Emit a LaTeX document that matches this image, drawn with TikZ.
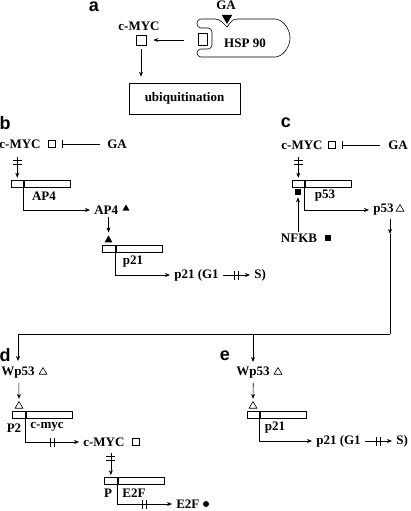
\documentclass[tikz,border=0pt]{standalone}
\usepackage{fontspec}
\setmainfont{Liberation Serif}
\newfontfamily\panelfont{Liberation Sans}
\usetikzlibrary{positioning}
\usetikzlibrary{arrows.meta}
\usetikzlibrary{shapes.geometric}
\usetikzlibrary{decorations.markings}

\tikzset{
  lbl/.style={font=\bfseries\fontsize{13}{15}\selectfont, inner sep=1pt},
  tag/.style={font=\panelfont\bfseries\fontsize{18}{20}\selectfont, inner sep=0pt},
  opensq/.style={draw, minimum size=7pt, inner sep=0pt},
  fillsq/.style={fill, minimum size=6pt, inner sep=0pt},
  opentri/.style={draw, regular polygon, regular polygon sides=3, minimum size=9pt, inner sep=0pt},
  filltri/.style={fill, regular polygon, regular polygon sides=3, minimum size=9pt, inner sep=0pt},
  prom/.style={draw, minimum width=12pt, minimum height=7pt, inner sep=0pt, anchor=west},
  gene/.style={draw, minimum width=46pt, minimum height=7pt, inner sep=0pt},
  twobar/.style={postaction={decorate}, decoration={markings, mark=at position #1 with {\draw (-2pt,-4.5pt) -- (-2pt,4.5pt) (2pt,-4.5pt) -- (2pt,4.5pt);}}}
}

\begin{document}
\begin{tikzpicture}[x=1pt, y=-1pt, line width=0.6pt, >={Stealth[length=5pt,width=4pt]}]
\useasboundingbox (0,0) rectangle (410,511);

% a: HSP 90 releases c-MYC
\node[tag] (taga) at (94,7) {a};
\node[lbl] (gaa) at (226,5) {GA};
\node[filltri, shape border rotate=180, minimum size=12pt] (gatri) at (227,18) {};
\draw[rounded corners=4pt] (227,27) -- (233,19) -- (271,19) arc[start angle=-90, end angle=90, radius=19] -- (197,57) -- (197,49) -- (212,49) -- (212,28) -- (197,28) -- (197,19) -- (219,19) -- (227,27);
\node[draw, minimum width=9pt, minimum height=12pt, inner sep=0pt] (hspsq) at (202.5,39) {};
\node[lbl] (hsp) at (245,43) {HSP 90};
\node[lbl] (myca) at (139,26) {c-MYC};
\node[draw, minimum size=10pt, inner sep=0pt] (mycasq) at (141,40) {};
\coordinate (hspout) at (184,40);
\draw[->, shorten >=7pt] (hspout) -- (mycasq.east);
\node[lbl, draw, minimum width=111pt, minimum height=31pt] (ubq) at (184.5,98.5) {ubiquitination};
\draw[->, shorten <=4pt, shorten >=6pt] (mycasq.south) -- (ubq.north -| mycasq.south);

% b
\node[tag] (tagb) at (5,123) {b};
\node[lbl] (mycb) at (20,144) {c-MYC};
\node[opensq] (mycbsq) at (52,144) {};
\node[lbl] (gab) at (117,144) {GA};
\draw[-{Bar[width=8pt]}, shorten >=6pt, shorten <=6pt] (gab.west) -- (mycbsq.east);
\node[prom] (pb1) at (11,183.5) {};
\node[gene, right=0pt of pb1] (gb1) {};
\draw[->, shorten <=7pt, shorten >=2pt] (pb1.north |- mycb.south) -- (pb1.north);
\path[twobar=0.41] (pb1.north |- mycb.south) -- (pb1.north);
\node[lbl] (ap4g) at (44,196) {AP4};
\node[lbl, anchor=west] (ap4b) at (93,210) {AP4};
\node[filltri, minimum size=8pt] (ap4tri) at (126,208.5) {};
\draw[->, shorten >=3pt] (pb1.south east) |- (ap4b.west);
\node[filltri] (ap4tri2) at (108.5,240) {};
\node[prom, minimum width=13pt] (pb2) at (102,248.5) {};
\node[gene, right=0pt of pb2] (gb2) {};
\draw[->, shorten <=1pt, shorten >=2.5pt] (ap4b.south -| ap4tri2) -- (ap4tri2.north);
\node[lbl] (p21g) at (133,262) {p21};
\node[lbl, anchor=west] (p21b) at (173,275) {p21 (G1};
\node[lbl, anchor=west] (sb) at (253,275) {S)};
\draw[->, shorten >=3pt] (pb2.south east) |- (p21b.west);
\draw[->, shorten <=3pt, shorten >=3pt] (p21b.east) -- (sb.west);
\path[twobar=0.5] (p21b.east) -- (sb.west);

% c
\node[tag] (tagc) at (286,123) {c};
\node[lbl] (mycc) at (302,145) {c-MYC};
\node[opensq] (myccsq) at (332,145) {};
\node[lbl] (gac) at (398,145) {GA};
\draw[-{Bar[width=8pt]}, shorten >=6pt, shorten <=7pt] (gac.west) -- (myccsq.east);
\node[prom] (pc) at (292,183.5) {};
\node[gene, right=0pt of pc] (gc) {};
\draw[->, shorten <=6pt, shorten >=2pt] (pc.north |- mycc.south) -- (pc.north);
\path[twobar=0.39] (pc.north |- mycc.south) -- (pc.north);
\node[fillsq] (nfsq) at (298,192) {};
\node[lbl] (p53g) at (325,196) {p53};
\node[lbl] (nfkb) at (299,238) {NFKB};
\node[fillsq] (nfkbsq) at (328,238) {};
\draw[->, shorten >=2pt] (nfkb.north -| nfsq) -- (nfsq.south);
\node[lbl, anchor=west] (p53c) at (372,210) {p53};
\node[opentri] (p53tri) at (400,209) {};
\draw[->, shorten >=3pt] (pc.south east) |- (p53c.west);
\coordinate (drop) at (390,234);
\coordinate (joint) at (390,334);
\coordinate (dtip) at (18,361);
\coordinate (etip) at (253,362);
\draw[->, shorten <=2pt] (p53c.south -| drop) -- (drop);
\draw (drop) -- (joint);
\draw[->] (joint) -| (dtip);
\draw[->] (etip |- joint) -- (etip);

% d
\node[tag] (tagd) at (5,355) {d};
\node[lbl] (wpd) at (18,373) {Wp53};
\node[opentri] (wpdtri) at (43,372) {};
\node[opentri] (wpdtri2) at (19,406) {};
\node[prom, minimum width=13pt] (pd) at (12,415) {};
\node[gene, right=0pt of pd] (gd) {};
\draw[->, shorten <=3pt, shorten >=2pt] (wpd.south -| pd.north) -- (wpdtri2.north);
\node[lbl] (p2d) at (14,428) {P2};
\node[lbl] (cmycd) at (47,427) {c-myc};
\node[lbl, anchor=west] (mycd) at (82,442) {c-MYC};
\node[opensq] (mycdsq) at (136,442) {};
\draw[->, shorten >=3pt] (pd.south east) |- (mycd.west);
\path[twobar=0.465] (pd.south east |- mycd.west) -- (mycd.west);
\node[prom, minimum width=13pt] (pd2) at (104,481) {};
\node[gene, right=0pt of pd2] (gd2) {};
\draw[->, shorten <=5pt, shorten >=2pt] (mycd.south -| pd2.north) -- (pd2.north);
\path[twobar=0.37] (mycd.south -| pd2.north) -- (pd2.north);
\node[lbl] (pd2l) at (108,493) {P};
\node[lbl] (e2fg) at (134,493) {E2F};
\node[lbl, anchor=west] (e2fd) at (175,504) {E2F};
\node[circle, fill, minimum size=6pt, inner sep=0pt] (e2fdot) at (206,504) {};
\draw[->, shorten >=3pt] (pd2.south east) |- (e2fd.west);
\path[twobar=0.46] (pd2.south east |- e2fd.west) -- (e2fd.west);

% e
\node[tag] (tage) at (225,356) {e};
\node[lbl] (wpe) at (253,373) {Wp53};
\node[opentri] (wpetri) at (278,372) {};
\node[opentri] (wpetri2) at (253,406) {};
\node[prom] (pe) at (247,415) {};
\node[gene, right=0pt of pe] (ge) {};
\draw[->, shorten <=3pt, shorten >=2pt] (wpe.south -| pe.north) -- (wpetri2.north);
\node[lbl] (p21ge) at (275,428) {p21};
\node[lbl, anchor=west] (p21e) at (315,441) {p21 (G1};
\node[lbl, anchor=west] (se) at (395,441) {S)};
\draw[->, shorten >=3pt] (pe.south east) |- (p21e.west);
\draw[->, shorten <=3pt, shorten >=3pt] (p21e.east) -- (se.west);
\path[twobar=0.5] (p21e.east) -- (se.west);
\end{tikzpicture}
\end{document}
